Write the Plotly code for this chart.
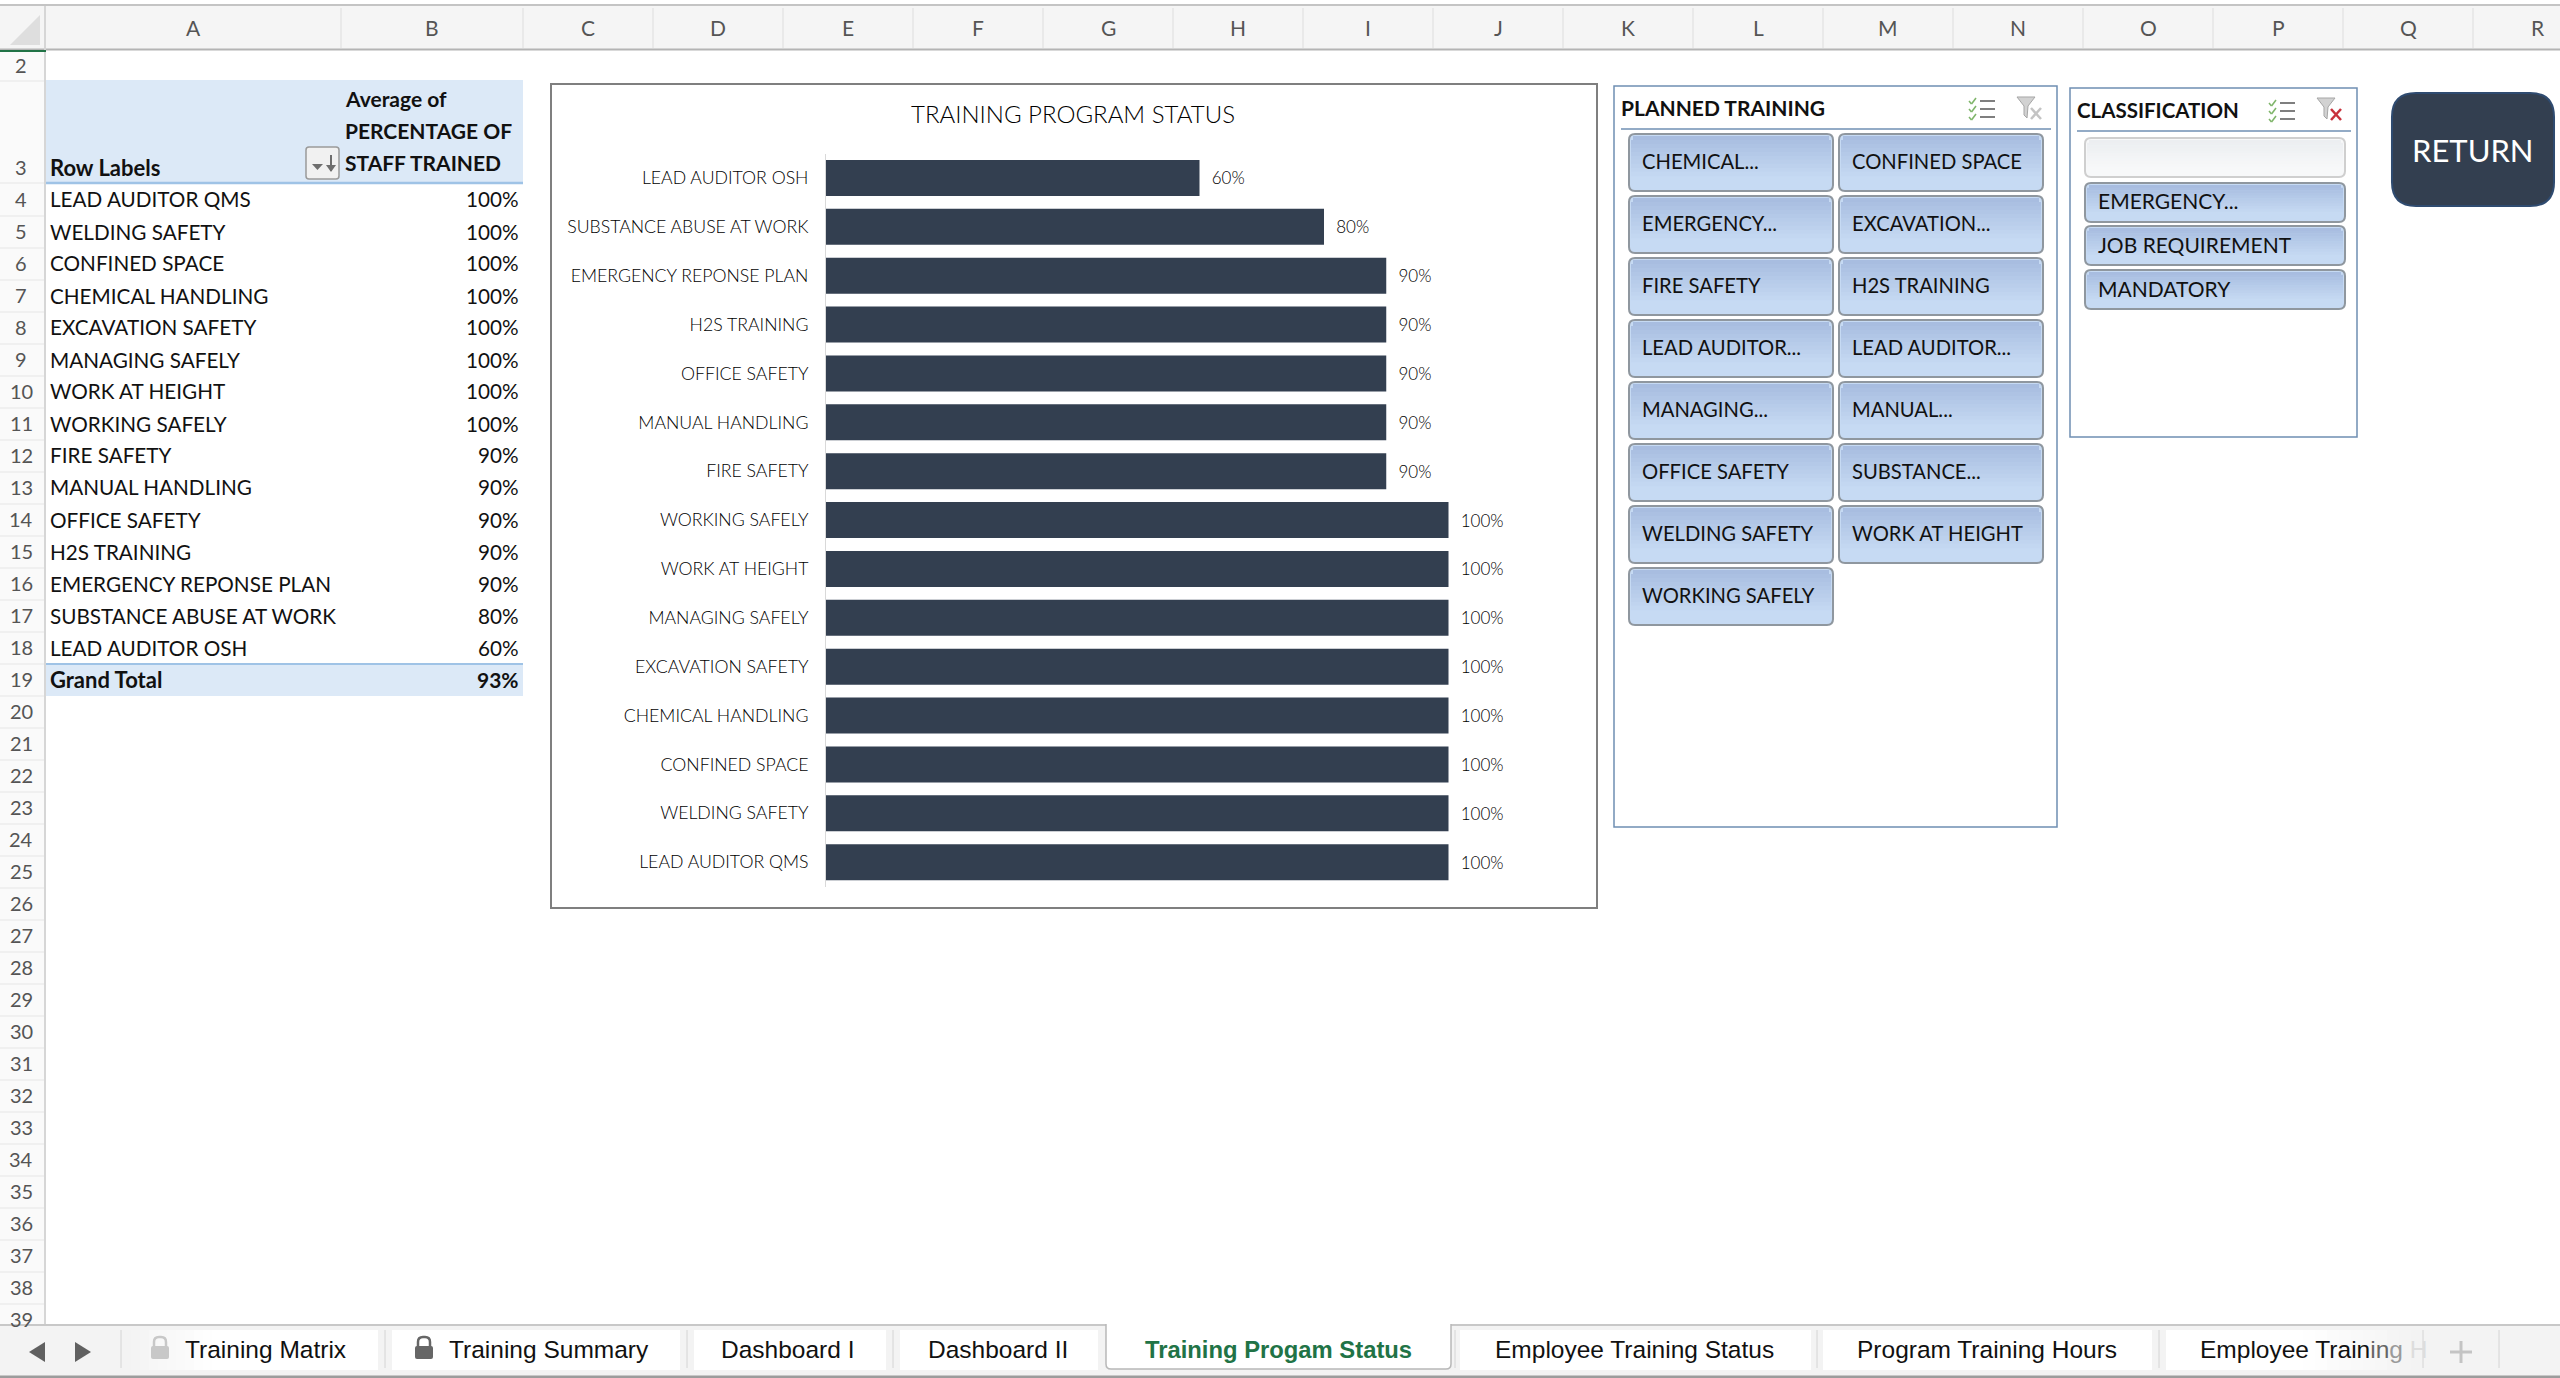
import plotly.graph_objects as go

# values (pivot order, the chart draws first row at the bottom)
program_labels = ["LEAD AUDITOR QMS", "WELDING SAFETY", "CONFINED SPACE", "CHEMICAL HANDLING",
                  "EXCAVATION SAFETY", "MANAGING SAFELY", "WORK AT HEIGHT", "WORKING SAFELY",
                  "FIRE SAFETY", "MANUAL HANDLING", "OFFICE SAFETY", "H2S TRAINING",
                  "EMERGENCY REPONSE PLAN", "SUBSTANCE ABUSE AT WORK", "LEAD AUDITOR OSH"]
program_values = [100, 100, 100, 100, 100, 100, 100, 100, 90, 90, 90, 90, 90, 80, 60]
grand_total = 93

header_lines = ["Average of", "PERCENTAGE OF", "STAFF TRAINED"]
column_letters = list("ABCDEFGHIJKLMNOPQR")
row_numbers = list(range(2, 40))

planned_buttons = ["CHEMICAL...", "CONFINED SPACE", "EMERGENCY...", "EXCAVATION...",
                   "FIRE SAFETY", "H2S TRAINING", "LEAD AUDITOR...", "LEAD AUDITOR...",
                   "MANAGING...", "MANUAL...", "OFFICE SAFETY", "SUBSTANCE...",
                   "WELDING SAFETY", "WORK AT HEIGHT", "WORKING SAFELY"]
class_buttons = ["", "EMERGENCY...", "JOB REQUIREMENT", "MANDATORY"]
sheet_tabs = ["Training Matrix", "Training Summary", "Dashboard I", "Dashboard II",
              "Training Progam Status", "Employee Training Status", "Program Training Hours"]

W, H = 2560, 1378
BAR = "#333f50"
FONT = "Lato"
shapes = []
notes = []


def fx(x):
    return x / W


def fy(y):
    return 1 - y / H


def rect(x0, y0, x1, y1, fill=None, line=None, lw=1):
    shapes.append(dict(type="rect", xref="paper", yref="paper", x0=fx(x0), x1=fx(x1), y0=fy(y0), y1=fy(y1),
                       fillcolor=fill or "rgba(0,0,0,0)", line=dict(color=line or "rgba(0,0,0,0)", width=lw if line else 0)))


def seg(x0, y0, x1, y1, color, lw=1):
    shapes.append(dict(type="line", xref="paper", yref="paper", x0=fx(x0), x1=fx(x1), y0=fy(y0), y1=fy(y1),
                       line=dict(color=color, width=lw)))


def poly(points, fill=None, line=None, lw=1):
    d = "M " + " L ".join(f"{fx(x):.5f} {fy(y):.5f}" for x, y in points) + " Z"
    shapes.append(dict(type="path", xref="paper", yref="paper", path=d, fillcolor=fill or "rgba(0,0,0,0)",
                       line=dict(color=line or "rgba(0,0,0,0)", width=lw if line else 0)))


def round_rect(x0, y0, x1, y1, r, fill, line=None, lw=1):
    def p(x, y):
        return f"{fx(x):.5f} {fy(y):.5f}"
    d = (f"M {p(x0 + r, y0)} L {p(x1 - r, y0)} Q {p(x1, y0)} {p(x1, y0 + r)} L {p(x1, y1 - r)} "
         f"Q {p(x1, y1)} {p(x1 - r, y1)} L {p(x0 + r, y1)} Q {p(x0, y1)} {p(x0, y1 - r)} "
         f"L {p(x0, y0 + r)} Q {p(x0, y0)} {p(x0 + r, y0)} Z")
    shapes.append(dict(type="path", xref="paper", yref="paper", path=d, fillcolor=fill,
                       line=dict(color=line or "rgba(0,0,0,0)", width=lw if line else 0)))


def text(x, y, s, size, color="#111111", anchor="left", family=FONT):
    notes.append(dict(xref="paper", yref="paper", x=fx(x), y=fy(y), text=s, showarrow=False, xanchor=anchor,
                      yanchor="middle", borderpad=0, font=dict(family=family, size=size, color=color)))


def blend(c0, c1, t):
    return "rgb(" + ",".join(str(round(a + (b - a) * t)) for a, b in zip(c0, c1)) + ")"


def slicer_button(x0, y0, x1, y1, label, size=20.2, top=(168, 189, 224), bottom=(198, 218, 243), edge="#8f979f"):
    round_rect(x0, y0, x1, y1, 6, blend(top, bottom, 1), edge, 2)
    steps = 10
    h = (y1 - y0 - 4) * 0.75 / steps
    for i in range(steps):
        inset = 4 if i == 0 else 2
        rect(x0 + inset, y0 + 2 + i * h, x1 - inset, y0 + 2 + (i + 1) * h + 0.5, blend(top, bottom, i / steps))
    if label:
        text(x0 + 12, (y0 + y1) / 2 - 1.5, label, size, "#111111")


def list_icon(x, y, dark="#555555"):
    for i in range(3):
        cy = y + 3 + i * 8
        poly_pts = [(x, cy), (x + 2.5, cy + 3), (x + 7, cy - 3)]
        for a, b in zip(poly_pts, poly_pts[1:]):
            seg(a[0], a[1], b[0], b[1], "#7fb56a", 1.5)
        seg(x + 11, cy, x + 26, cy, dark, 1.5)


def filter_icon(x, y, cross):
    poly([(x, y), (x + 18, y), (x + 11, y + 9), (x + 10, y + 21), (x + 7, y + 18), (x + 7, y + 9)], "#d2d2d2", "#a6a6a6", 1)
    seg(x + 14, y + 11, x + 24, y + 22, cross, 2.5)
    seg(x + 24, y + 11, x + 14, y + 22, cross, 2.5)


# spreadsheet chrome: column header
rect(0, 6, W, 49, "#f5f5f5")
seg(0, 5, W, 5, "#c4c4c4", 2)
seg(0, 49.5, W, 49.5, "#b4b4b4", 2)
poly([(10, 45), (40, 15), (40, 45)], "#dedede")
seg(45, 6, 45, 1324, "#d6d6d6", 2)
col_edges = [46, 341] + [523 + 130 * i for i in range(17)]
for e in col_edges[1:]:
    seg(e, 8, e, 48, "#dddddd", 1)
for i, c in enumerate(column_letters):
    text((col_edges[i] + col_edges[i + 1]) / 2, 28, c, 21, "#555555", "center")
seg(0, 51, 46, 51, "#217346", 2)

# row header
rect(0, 52, 44, 1324, "#fafafa")
row_mid = {2: 66, 3: 168}
for n in row_numbers:
    y = row_mid.get(n, 200 + (n - 4) * 32)
    if n >= 4:
        seg(0, y + 16, 44, y + 16, "#e6e6e6", 1)
    text(21, y - 1, str(n), 20, "#555555", "center")
seg(0, 81, 44, 81, "#e6e6e6", 1)
seg(0, 183, 44, 183, "#e6e6e6", 1)

# pivot table
rect(46, 80, 523, 183, "#dce9f7")
seg(46, 183, 523, 183, "#9fc3e6", 2.5)
text(49, 167, "<b>Row Labels</b>", 22)
for line_text, y in zip(header_lines, [99, 131, 163]):
    text(344, y, f"<b>{line_text}</b>", 21)
round_rect(306, 147, 339, 179, 3, "#f1f1f1", "#9a9a9a", 1.5)
poly([(312, 164), (323, 164), (317.5, 170)], "#6e6e6e")
seg(331, 155, 331, 171, "#6e6e6e", 2)
poly([(326, 165), (336, 165), (331, 172)], "#6e6e6e")
for i, (lab, val) in enumerate(zip(program_labels, program_values)):
    text(49, 199.5 + i * 32, lab, 20.7)
    text(520, 199.5 + i * 32, f"{val}%", 20.7, anchor="right")
rect(46, 664, 523, 696, "#dce9f7")
seg(46, 664, 523, 664, "#9fc3e6", 2)
text(49, 679.5, "<b>Grand Total</b>", 22)
text(520, 679.5, f"<b>{grand_total}%</b>", 21, anchor="right")

# chart frame
rect(551, 84, 1597, 908, None, "#7f7f7f", 2)

# planned training slicer
rect(1614, 86, 2057, 827, None, "#6f8fb3", 1.5)
text(1620, 107, "<b>PLANNED TRAINING</b>", 21)
seg(1621, 129, 2051, 129, "#6f8fb3", 1.5)
list_icon(1969, 98)
filter_icon(2017, 97, "#c4c4c4")
for i, lab in enumerate(planned_buttons):
    cx = 1629 if i % 2 == 0 else 1839
    y0 = 134 + (i // 2) * 62
    slicer_button(cx, y0, cx + 204, y0 + 57, lab)

# classification slicer
rect(2070, 88, 2357, 437, None, "#6f8fb3", 1.5)
text(2076, 110, "<b>CLASSIFICATION</b>", 20.5)
seg(2077, 131, 2351, 131, "#6f8fb3", 1.5)
list_icon(2269, 100)
filter_icon(2317, 98, "#c8323c")
class_rows = [138, 183, 226, 270]
for y0, lab in zip(class_rows, class_buttons):
    if lab:
        slicer_button(2085, y0, 2345, y0 + 39, lab, 21)
    else:
        slicer_button(2085, y0, 2345, y0 + 39, lab, 21, (236, 238, 241), (247, 248, 249), "#cfcfcf")

# return button
round_rect(2392, 93, 2554, 206, 24, BAR, "#2f4b70", 2)
text(2473, 150, "RETURN", 31, "#ffffff", "center")

# sheet tabs
rect(0, 1324, W, 1376, "#f3f3f3")
seg(0, 1325, 1106, 1325, "#c8c8c8", 2)
seg(1451, 1325, W, 1325, "#c8c8c8", 2)
seg(0, 1377, W, 1377, "#9c9c9c", 3)
tab_edges = [(122, 378), (392, 680), (694, 886), (900, 1098), (1106, 1451), (1460, 1811), (1823, 2152), (2166, 2423)]
for x0, x1 in tab_edges:
    if x0 == 1106:
        round_rect(x0, 1318, x1, 1369, 5, "#ffffff", "#b8b8b8", 1.5)
        rect(x0 - 1, 1316, x1 + 1, 1324, "#ffffff")
    else:
        rect(x0, 1330, x1, 1370, "#ffffff")
# fade at both ends of the tab strip
for i in range(10):
    rect(122 + i * 9, 1330, 122 + (i + 1) * 9, 1370, blend((243, 243, 243), (255, 255, 255), i / 10))
    rect(2423 - (i + 1) * 12, 1330, 2423 - i * 12, 1370, blend((243, 243, 243), (255, 255, 255), i / 10))
for e in [121, 385, 687, 893, 1455, 1817, 2159, 2423, 2499]:
    seg(e, 1330, e, 1368, "#d4d4d4", 1)
poly([(45, 1342), (45, 1362), (29, 1352)], "#606060")
poly([(75, 1342), (75, 1362), (91, 1352)], "#606060")
seg(2461, 1341, 2461, 1363, "#c4c4c4", 3)
seg(2450, 1352, 2472, 1352, "#c4c4c4", 3)
for x, col in [(151, "#c8c8c8"), (415, "#666666")]:
    round_rect(x + 3, 1337, x + 15, 1352, 5, "rgba(0,0,0,0)", col, 2.5)
    round_rect(x, 1346, x + 18, 1359, 2, col)
tab_centers = [265, 549, 787, 998, 1278, 1634, 1987]
for lab, cx in zip(sheet_tabs, tab_centers):
    if lab == "Training Progam Status":
        text(cx, 1349, f"<b>{lab}</b>", 23.8, "#217346", "center", "Liberation Sans")
    else:
        text(cx, 1349, lab, 24.5, "#111111", "center", "Liberation Sans")
text(2199, 1349, 'Employee Train<span style="color:#666666">in</span><span style="color:#9a9a9a">g</span>'
     ' <span style="color:#dddddd">H</span>', 24.5, "#111111", "left", "Liberation Sans")

# the chart itself
bars = go.Bar(
    x=program_values,
    y=program_labels,
    orientation="h",
    marker=dict(color=BAR, line=dict(width=0)),
    text=[f"\u00a0\u00a0{v}%" for v in program_values],
    textposition="outside",
    cliponaxis=False,
    textfont=dict(family=FONT, size=17, color="#000000", weight=300),
    hoverinfo="skip",
)

fig = go.Figure(data=[bars])
fig.update_layout(
    width=W,
    height=H,
    margin=dict(l=0, r=0, t=0, b=0),
    paper_bgcolor="#ffffff",
    plot_bgcolor="#ffffff",
    showlegend=False,
    bargap=0.264,
    title=dict(text="TRAINING PROGRAM STATUS", x=fx(1073), y=fy(114.5), xanchor="center", yanchor="middle",
               xref="paper", yref="paper", font=dict(family=FONT, size=24, color="#000000", weight=300)),
    xaxis=dict(domain=[fx(826), fx(1573)], range=[0, 120], visible=False),
    yaxis=dict(domain=[fy(886.6), fy(153.5)], showline=True, linecolor="#d9d9d9", linewidth=1, ticks="",
               showgrid=False, zeroline=False, ticklabelstandoff=13, automargin=False,
               tickfont=dict(family=FONT, size=17.7, color="#000000", weight=300)),
    shapes=shapes,
    annotations=notes,
)

fig.write_html("out.html", config=dict(displayModeBar=False),
               post_script="document.body.style.margin='0';document.body.style.overflow='hidden';")
